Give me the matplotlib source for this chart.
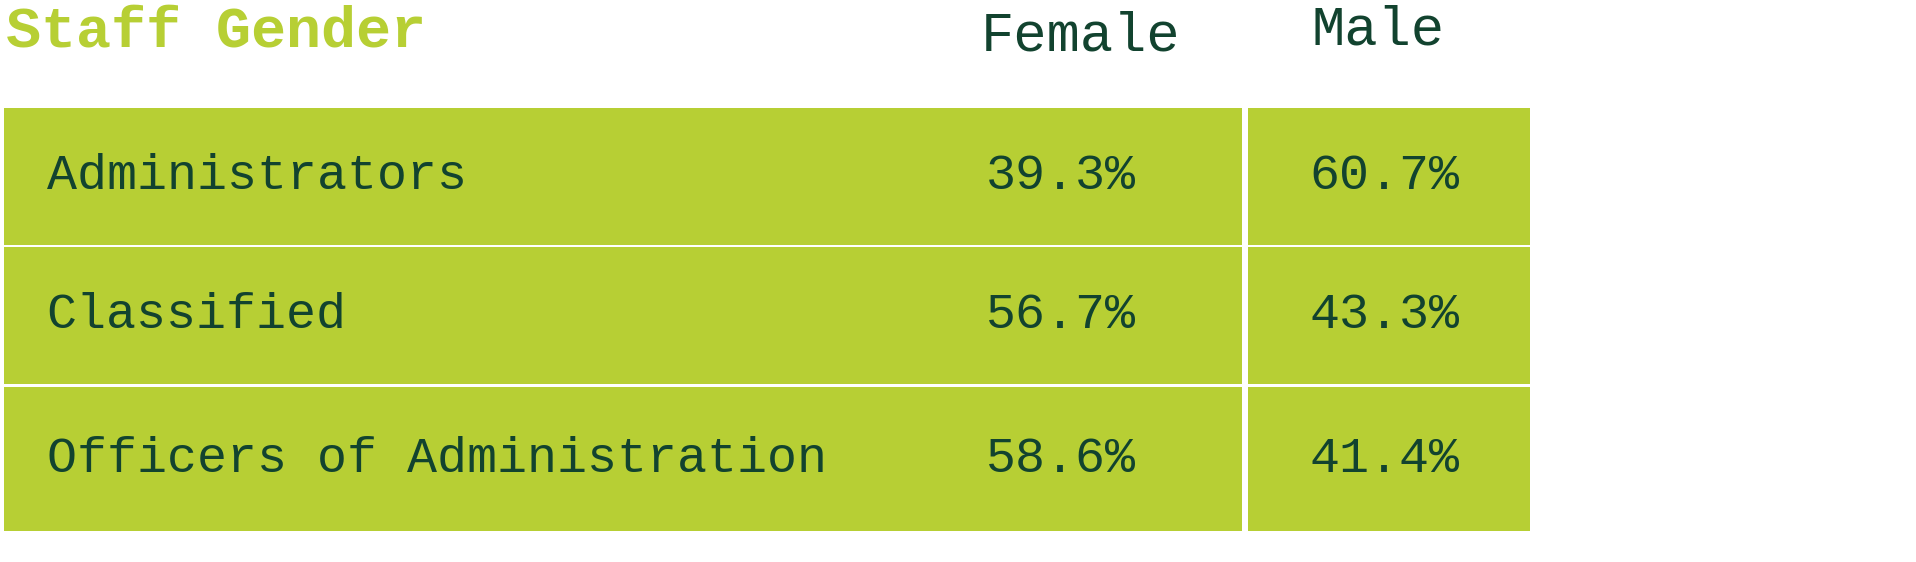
import matplotlib
matplotlib.use("Agg")
import matplotlib.pyplot as plt
from matplotlib.patches import Rectangle

title = "Staff Gender"
columns = ["Female", "Male"]
categories = ["Administrators", "Classified", "Officers of Administration"]
female = [39.3, 56.7, 58.6]
male = [60.7, 43.3, 41.4]

GREEN = "#b7cf34"
DARK = "#12432f"
W, H = 1560, 457

fig = plt.figure(figsize=(19.16, 5.62), dpi=100)
ax = fig.add_axes([0, 0, 1, 1])
ax.set_xlim(0, W)
ax.set_ylim(H, 0)
ax.axis("off")

font = "Liberation Mono"
rows = [(88, 199), (201, 312), (315, 432)]
for (y0, y1), cat, f, m in zip(rows, categories, female, male):
    ax.add_patch(Rectangle((3, y0), 1011 - 3, y1 - y0, color=GREEN, lw=0))
    ax.add_patch(Rectangle((1016, y0), 1246 - 1016, y1 - y0, color=GREEN, lw=0))
    yc = (y0 + y1) / 2
    ax.text(38, yc, cat, fontsize=36, color=DARK, family=font, va="center", ha="left")
    ax.text(803, yc, f"{f:.1f}%", fontsize=36, color=DARK, family=font, va="center", ha="left")
    ax.text(1066, yc, f"{m:.1f}%", fontsize=36, color=DARK, family=font, va="center", ha="left")

ax.text(5, 26, title, fontsize=42, color=GREEN, family=font, weight="bold", va="center", ha="left")
ax.text(880, 30, columns[0], fontsize=40, color=DARK, family=font, va="center", ha="center")
ax.text(1122, 25, columns[1], fontsize=40, color=DARK, family=font, va="center", ha="center")

fig.savefig("out.png", dpi=100, facecolor="white")
